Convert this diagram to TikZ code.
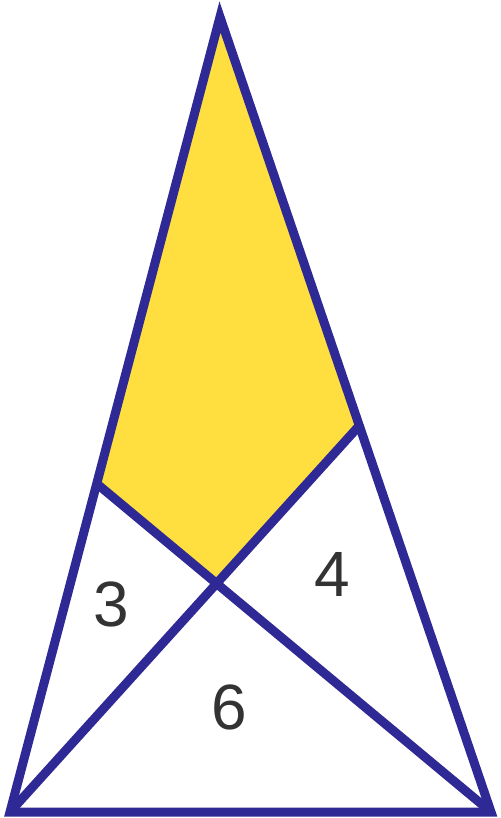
\documentclass[tikz,border=0pt]{standalone}
\usepackage{fontspec}
\setmainfont{Liberation Sans}
\usetikzlibrary{calc}
\definecolor{edgeblue}{RGB}{46,41,148}
\definecolor{partyellow}{RGB}{255,222,64}
\definecolor{numgray}{RGB}{51,51,51}
\tikzset{
  edge/.style={draw=edgeblue,line width=9pt},
  area/.style={text=numgray,inner sep=0pt,font=\fontsize{64}{64}\selectfont}
}
\begin{document}
\begin{tikzpicture}[x=1pt,y=-1pt]
    \useasboundingbox (0,0) rectangle (500,818);
    \coordinate (top) at (220,17);
    \coordinate (bl) at (10,812);
    \coordinate (br) at (491,812);
    \coordinate (lp) at ($(top)!0.587!(bl)$);
    \coordinate (rp) at ($(top)!0.514!(br)$);
    \coordinate (mid) at (intersection of bl--rp and br--lp);
    % shaded part
    \fill[partyellow] (top) -- (rp) -- (mid) -- (lp) -- cycle;
    \draw[edge] (top) -- (br) -- (bl) -- cycle;
    \draw[edge] (bl) -- (rp);
    \draw[edge] (br) -- (lp);
    \node[area] (three) at (111,604) {3};
    \node[area] (four) at (332,574) {4};
    \node[area] (six) at (229,707) {6};
\end{tikzpicture}
\end{document}
